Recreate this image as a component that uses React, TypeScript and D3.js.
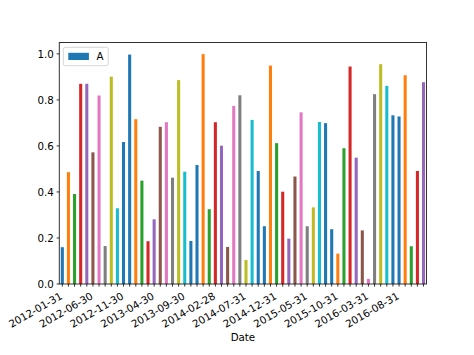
import React from "react";
import * as d3 from "d3";

const dates: string[] = [
  "2012-01-31","2012-02-29","2012-03-31","2012-04-30","2012-05-31","2012-06-30","2012-07-31","2012-08-31","2012-09-30","2012-10-31","2012-11-30","2012-12-31",
  "2013-01-31","2013-02-28","2013-03-31","2013-04-30","2013-05-31","2013-06-30","2013-07-31","2013-08-31","2013-09-30","2013-10-31","2013-11-30","2013-12-31",
  "2014-01-31","2014-02-28","2014-03-31","2014-04-30","2014-05-31","2014-06-30","2014-07-31","2014-08-31","2014-09-30","2014-10-31","2014-11-30","2014-12-31",
  "2015-01-31","2015-02-28","2015-03-31","2015-04-30","2015-05-31","2015-06-30","2015-07-31","2015-08-31","2015-09-30","2015-10-31","2015-11-30","2015-12-31",
  "2016-01-31","2016-02-29","2016-03-31","2016-04-30","2016-05-31","2016-06-30","2016-07-31","2016-08-31","2016-09-30","2016-10-31","2016-11-30","2016-12-31",
];

const valuesA: number[] = [
  0.160, 0.486, 0.391, 0.870, 0.870, 0.572, 0.819, 0.165, 0.901, 0.329,
  0.617, 0.997, 0.716, 0.449, 0.186, 0.281, 0.683, 0.703, 0.462, 0.886,
  0.488, 0.187, 0.517, 0.999, 0.325, 0.703, 0.601, 0.161, 0.774, 0.820,
  0.104, 0.713, 0.491, 0.251, 0.949, 0.612, 0.401, 0.197, 0.467, 0.746,
  0.251, 0.333, 0.704, 0.699, 0.238, 0.132, 0.590, 0.945, 0.549, 0.233,
  0.022, 0.825, 0.955, 0.861, 0.733, 0.728, 0.907, 0.164, 0.491, 0.877,
];

const yTicks: number[] = [0, 0.2, 0.4, 0.6, 0.8, 1.0];
const labelEvery = 5;
const seriesName = "A";
const xLabel = "Date";

export default function App() {
  const W = 474, H = 355;
  const left = 59.25, right = 426.6, top = 42.6, bottom = 284;
  const font = "'DejaVu Sans', sans-serif";
  const fs = 10.28;

  const x = d3.scaleBand<string>().domain(dates).range([left, right]).paddingInner(0.5).paddingOuter(0.25);
  const yMax = (d3.max(valuesA) as number) * 1.05;
  const y = d3.scaleLinear().domain([0, yMax]).range([bottom, top]);
  const colors = Array.from(d3.schemeCategory10);
  const cyc = [...colors, colors[0]];
  const fmt = d3.format(".1f");
  const tickLen = 2.6;

  return (
    <svg width={W} height={H} style={{ position: "absolute", left: 0, top: 0, background: "#fff" }} fontFamily={font}>
      <rect x={0} y={0} width={W} height={H} fill="#fff" />
      {valuesA.map((v, i) => (
        <rect key={i} x={x(dates[i])} y={y(v)} width={x.bandwidth()} height={bottom - y(v)} fill={cyc[i % cyc.length]} />
      ))}
      <rect x={left} y={top} width={right - left} height={bottom - top} fill="none" stroke="#000" strokeWidth={0.8} />
      {yTicks.map((t) => (
        <g key={t}>
          <line x1={left - tickLen} x2={left} y1={y(t)} y2={y(t)} stroke="#000" strokeWidth={0.8} />
          <text x={left - tickLen - 2.8} y={y(t)} dy="0.36em" textAnchor="end" fontSize={fs} fill="#000">{fmt(t)}</text>
        </g>
      ))}
      {dates.map((d, i) => {
        const cx = (x(d) as number) + x.bandwidth() / 2;
        return (
          <g key={d}>
            <line x1={cx} x2={cx} y1={bottom} y2={bottom + tickLen} stroke="#000" strokeWidth={0.8} />
            {i % labelEvery === 0 && (
              <text transform={`translate(${cx + 0.8},${bottom + 14.2}) rotate(-30)`} textAnchor="end" fontSize={fs} fill="#000">{d}</text>
            )}
          </g>
        );
      })}
      <text x={(left + right) / 2} y={341} textAnchor="middle" fontSize={fs} fill="#000">{xLabel}</text>
      <g>
        <rect x={63.3} y={47.3} width={45} height={18.4} rx={2} fill="#fff" fillOpacity={0.8} stroke="#ccc" strokeWidth={0.8} />
        <rect x={68.3} y={52.8} width={20.6} height={7.2} fill={cyc[0]} />
        <text x={96.5} y={60.2} fontSize={fs} fill="#000">{seriesName}</text>
      </g>
    </svg>
  );
}
